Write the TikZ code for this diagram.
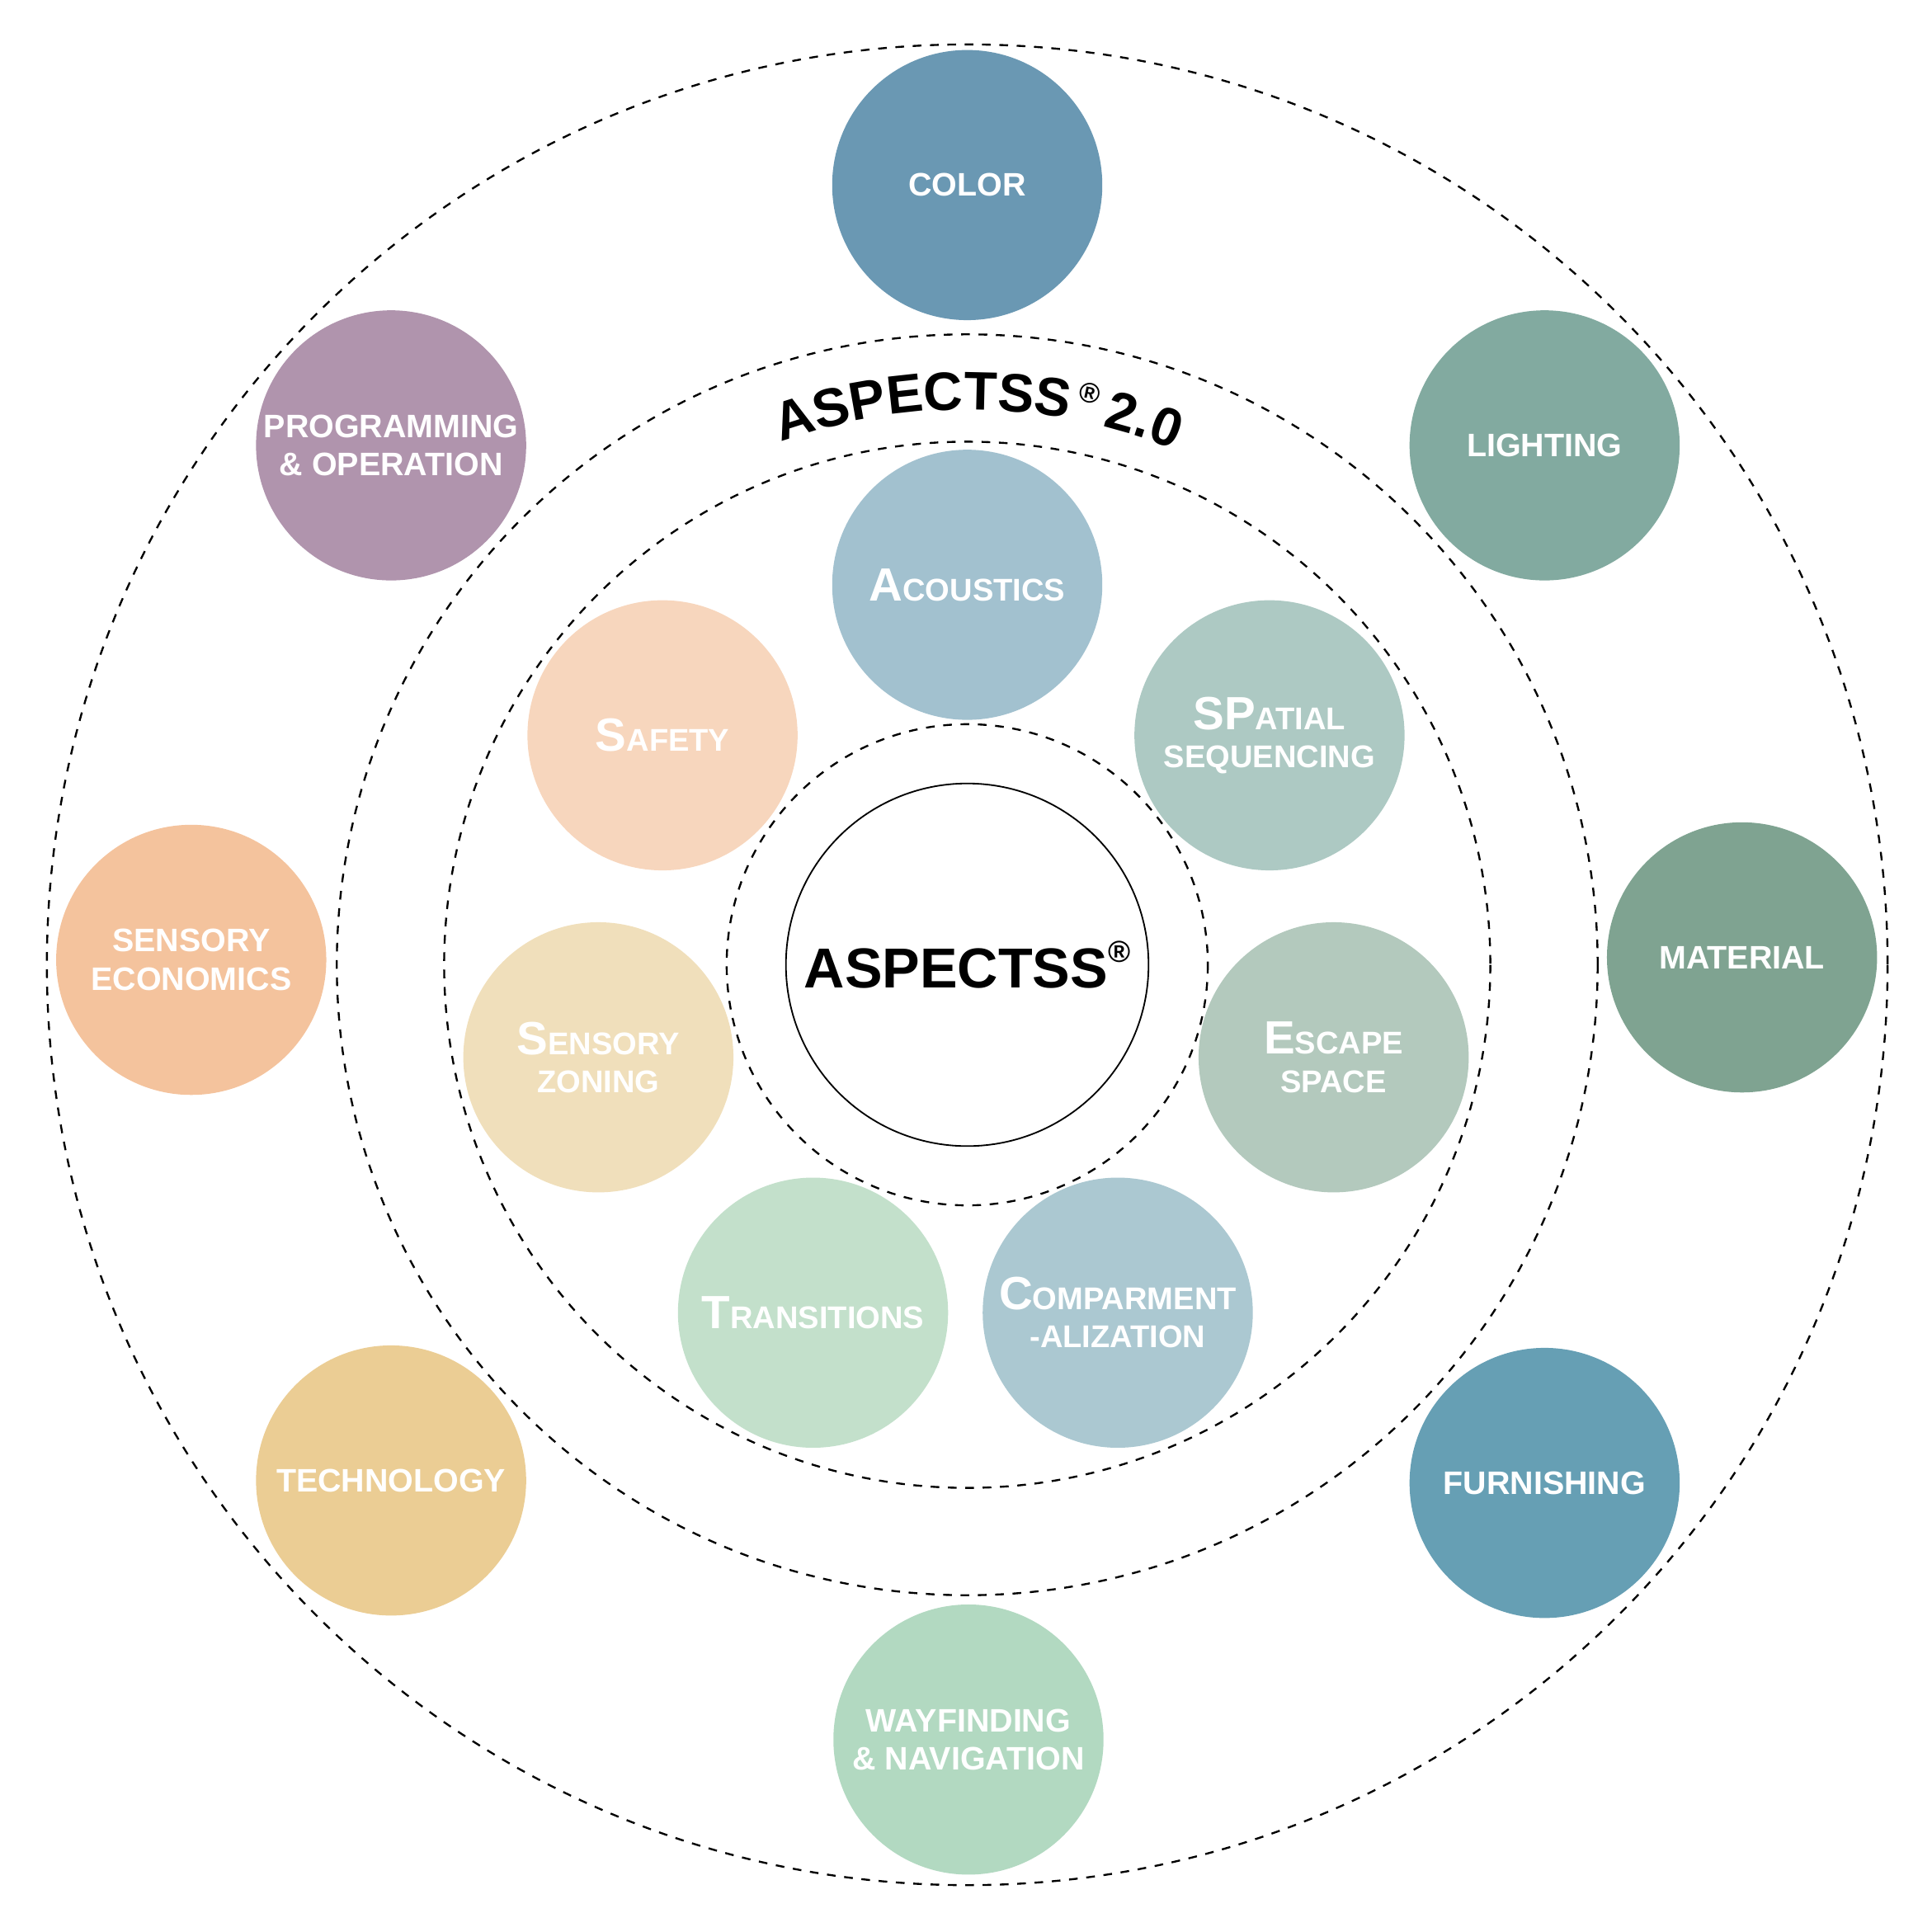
\documentclass[tikz,border=0pt]{standalone}
\usepackage{fontspec}
\setmainfont{Liberation Sans}
\usetikzlibrary{decorations.text,calc}
\definecolor{cColor}{HTML}{6A98B3}
\definecolor{cLight}{HTML}{82AAA0}
\definecolor{cMat}{HTML}{7FA391}
\definecolor{cFurn}{HTML}{669FB4}
\definecolor{cWay}{HTML}{B2D9C1}
\definecolor{cTech}{HTML}{EBCD94}
\definecolor{cEcon}{HTML}{F4C39D}
\definecolor{cProg}{HTML}{B094AD}
\definecolor{cAcou}{HTML}{A2C1CF}
\definecolor{cSpat}{HTML}{ADC9C3}
\definecolor{cEsc}{HTML}{B3C9BD}
\definecolor{cComp}{HTML}{ABC8D1}
\definecolor{cTrans}{HTML}{C3E0CB}
\definecolor{cZone}{HTML}{F0DFBB}
\definecolor{cSafe}{HTML}{F7D6BD}
\newcommand{\BL}[1]{{\fontsize{21.5}{21.5}\selectfont #1}}
\tikzset{
 bubble/.style={circle,fill=#1,minimum size=4.38cm,inner sep=0pt,text=white,align=center,
   font=\fontsize{15}{17.6}\selectfont\bfseries},
 sbubble/.style={bubble=#1,font=\fontsize{14.5}{17.6}\selectfont\bfseries},
 ring/.style={dashed,line width=0.9pt,dash pattern=on 4pt off 4pt}
}
\begin{document}
\begin{tikzpicture}[x=0.02cm,y=-0.02cm]
\useasboundingbox (0,0) rectangle (1566,1566);
\coordinate (c) at (784,782);
\draw[ring] (c) circle[radius=746];
\draw[ring] (c) circle[radius=511];
\draw[ring] (c) circle[radius=424];
\draw[ring] (c) circle[radius=195];
\node[circle,draw,line width=0.7pt,minimum size=5.88cm,font=\fontsize{26}{26}\selectfont\bfseries] (core) at (c) {ASPECTSS\raisebox{0.45em}{\fontsize{14}{14}\selectfont®}};
\path[decorate,decoration={text along path,text align=right,
  text={|\fontsize{25}{25}\selectfont\bfseries|ASPECTSS}}]
  (c) ++(-112:450) arc[start angle=-112,end angle=-79.5,radius=450];
\node[font=\fontsize{13}{13}\selectfont\bfseries,rotate=-12,inner sep=0pt] (reg) at ($(c)+(-77.9:474)$) {®};
\path[decorate,decoration={text along path,text align=left,
  text={|\fontsize{25}{25}\selectfont\bfseries|2.0}}]
  (c) ++(-75.9:450) arc[start angle=-75.9,end angle=-60,radius=450];
% outer
\node[bubble=cColor] (color) at (784,150) {COLOR};
\node[bubble=cLight] (light) at (1252,361) {LIGHTING};
\node[bubble=cMat] (mat) at (1412,776) {MATERIAL};
\node[bubble=cFurn] (furn) at (1252,1202) {FURNISHING};
\node[bubble=cWay] (way) at (785,1410) {WAYFINDING\\\& NAVIGATION};
\node[bubble=cTech] (tech) at (317,1200) {TECHNOLOGY};
\node[bubble=cEcon] (econ) at (155,778) {SENSORY\\ECONOMICS};
\node[bubble=cProg] (prog) at (317,361) {PROGRAMMING\\\& OPERATION};
% inner
\node[sbubble=cAcou] (acou) at (784,474) {\BL{A}COUSTICS};
\node[sbubble=cSpat] (spat) at (1029,596) {\BL{SP}ATIAL\\SEQUENCING};
\node[sbubble=cEsc] (esc) at (1081,857) {\BL{E}SCAPE\\SPACE};
\node[sbubble=cComp] (comp) at (906,1064) {\BL{C}OMPARMENT\\-ALIZATION};
\node[sbubble=cTrans] (trans) at (659,1064) {\BL{T}RANSITIONS};
\node[sbubble=cZone] (zone) at (485,857) {\BL{S}ENSORY\\ZONING};
\node[sbubble=cSafe] (safe) at (537,596) {\BL{S}AFETY};
\end{tikzpicture}
\end{document}
